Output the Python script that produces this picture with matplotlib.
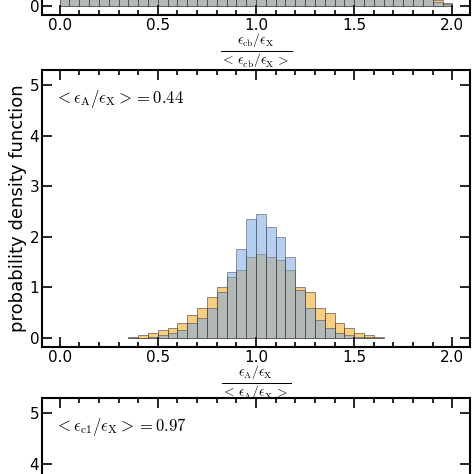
import numpy as np
import matplotlib.pyplot as plt
from matplotlib.ticker import MultipleLocator

plt.rcParams['mathtext.fontset'] = 'cm'

# middle panel: histogram bins of 0.05 from 0.35 to 1.65
edges_a = np.arange(0.35, 1.651, 0.05)
orange_a = [0.02, 0.05, 0.1, 0.15, 0.2, 0.3, 0.45, 0.6, 0.8, 1.0, 1.2, 1.35, 1.6,
            1.65, 1.6, 1.55, 1.35, 1.0, 0.9, 0.6, 0.5, 0.3, 0.2, 0.1, 0.05, 0.02]
blue_a = [0, 0, 0.02, 0.05, 0.1, 0.15, 0.3, 0.4, 0.6, 0.9, 1.3, 1.75, 2.35,
          2.45, 2.2, 2.0, 1.6, 0.95, 0.6, 0.35, 0.2, 0.1, 0.05, 0.02, 0.01, 0]

# top panel (only its base is visible)
edges_cb = np.arange(0.0, 2.001, 0.05)
orange_cb = [0.6] * 34 + [0.5, 0.4, 0.3, 0.2, 0.12, 0.05]
blue_cb = [0.6] * 34 + [0.45, 0.35, 0.25, 0.15, 0.08, 0.03]

W = 474
fig = plt.figure(figsize=(W / 100, W / 100), dpi=100)
left, width, h = 42 / W, 428 / W, 277 / W

ax_top = fig.add_axes([left, 1 - 15 / W, width, h])
ax_mid = fig.add_axes([left, 1 - 347 / W, width, h])
ax_bot = fig.add_axes([left, 1 - (398 + 277) / W, width, h])


def draw(ax, edges, orange, blue):
    widths = np.diff(edges)
    ax.bar(edges[:-1], orange, width=widths, align='edge', color='#f7b53b',
           alpha=0.65, edgecolor='#333333', linewidth=0.6)
    ax.bar(edges[:-1], blue, width=widths, align='edge', color='#7aa9e6',
           alpha=0.55, edgecolor='#333333', linewidth=0.6)
    ax.set_xlim(-0.09, 2.09)
    ax.set_ylim(-0.18, 5.3)
    ax.xaxis.set_major_locator(MultipleLocator(0.5))
    ax.xaxis.set_minor_locator(MultipleLocator(0.1))
    ax.yaxis.set_major_locator(MultipleLocator(1))
    ax.tick_params(which='both', direction='in', top=True, right=True, width=1.2,
                   labelsize=11, pad=2)
    ax.tick_params(which='major', length=7)
    ax.tick_params(which='minor', length=3.5)
    for s in ax.spines.values():
        s.set_linewidth(1.5)


draw(ax_top, edges_cb, orange_cb, blue_cb)
draw(ax_mid, edges_a, orange_a, blue_a)
draw(ax_bot, edges_a, [0] * 26, [0] * 26)

ax_top.set_xlabel(r'$\frac{\epsilon_{\rm cb}/\epsilon_{\rm X}}{<\,\epsilon_{\rm cb}/\epsilon_{\rm X}\,>}$',
                  fontsize=14, labelpad=-1)
ax_mid.set_xlabel(r'$\frac{\epsilon_{\rm A}/\epsilon_{\rm X}}{<\,\epsilon_{\rm A}/\epsilon_{\rm X}\,>}$',
                  fontsize=14, labelpad=-1)
ax_mid.set_ylabel('probability density function', fontsize=13, labelpad=2)
ax_mid.text(0.03, 0.88, r'$<\epsilon_{\rm A}/\epsilon_{\rm X}>= 0.44$',
            transform=ax_mid.transAxes, fontsize=12)
ax_bot.text(0.03, 0.88, r'$<\epsilon_{\rm c1}/\epsilon_{\rm X}>= 0.97$',
            transform=ax_bot.transAxes, fontsize=12)

fig.savefig('out.png', dpi=100)
